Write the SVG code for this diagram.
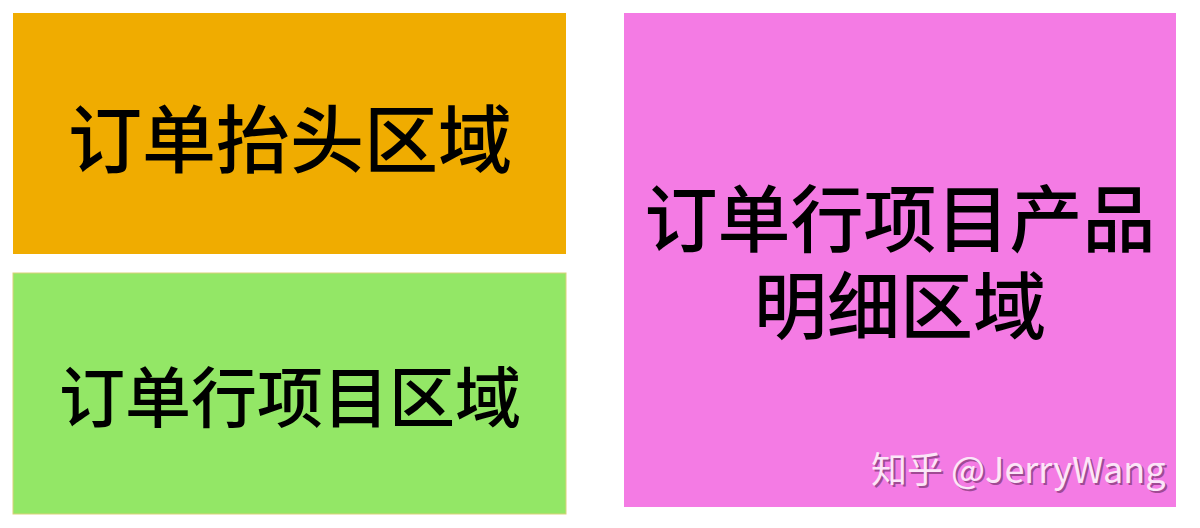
<svg xmlns="http://www.w3.org/2000/svg" width="1200" height="528" viewBox="0 0 1200 528">
  <defs>
    <style>
      .lbl { font-family: "Noto Sans CJK SC", "Liberation Sans", sans-serif; font-weight: 500; fill: #000000; text-anchor: middle; }
      .wm { font-family: "Noto Sans CJK SC", "Liberation Sans", sans-serif; font-size: 36px; fill: #fbe6f8; text-anchor: start; }
      .wms { font-family: "Noto Sans CJK SC", "Liberation Sans", sans-serif; font-size: 36px; fill: #a04a94; text-anchor: start; }
    </style>
  </defs>
  <rect x="0" y="0" width="1200" height="528" fill="#ffffff"/>
  <g id="header">
    <rect x="13" y="13" width="553" height="241" fill="#f0ac00"/>
    <text class="lbl" x="290" y="167" font-size="74">订单抬头区域</text>
  </g>
  <g id="items">
    <rect x="13" y="273" width="553" height="241" fill="#93e766" stroke="#d9d27a" stroke-width="1"/>
    <text class="lbl" x="290" y="422" font-size="66">订单行项目区域</text>
  </g>
  <g id="details">
    <rect x="624" y="13" width="552" height="494" fill="#f47be4"/>
    <text class="lbl" x="900" y="246" font-size="73">订单行项目产品</text>
    <text class="lbl" x="900" y="333" font-size="73">明细区域</text>
  </g>
  <g id="watermark">
    <text class="wms" x="873" y="485">知乎 @JerryWang</text>
    <text class="wm" x="871" y="483">知乎 @JerryWang</text>
  </g>
  <g id="connectors"></g>
</svg>
